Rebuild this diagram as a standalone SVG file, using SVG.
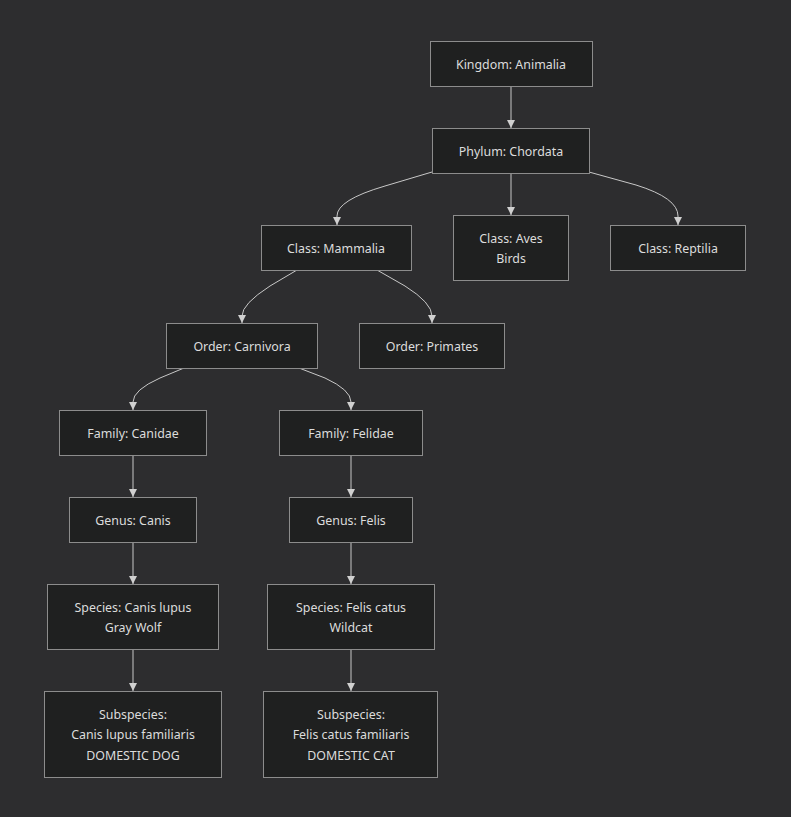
<svg xmlns="http://www.w3.org/2000/svg" width="791" height="817" viewBox="0 0 791 817">
<style>
.bg{fill:#2d2d2f}
.n rect{fill:#1f2020;stroke:#8c8c8c;stroke-width:1}
.n text{fill:#dcdcdc;font-family:"Noto Sans","DejaVu Sans",sans-serif;font-size:12.4px;text-anchor:middle;dominant-baseline:central}
.e path{fill:none;stroke:#c8c8c8;stroke-width:1;marker-end:url(#arr)}
</style>
<defs>
<marker id="arr" viewBox="0 0 10 10" refX="10" refY="5" markerWidth="8" markerHeight="8" markerUnits="userSpaceOnUse" orient="auto">
<path d="M0,0 L10,5 L0,10 z" fill="#d0d0d0"/>
</marker>
</defs>
<rect class="bg" x="0" y="0" width="791" height="817"/>
<g id="connectors" class="e">
<path d="M511,86 L511,128"/>
<path d="M432,172 L385,186 Q337,200 337,216 L337,225"/>
<path d="M511,173 L511,215"/>
<path d="M589,172 L636,185 Q678,198 678,216 L678,225"/>
<path d="M297,270 L270,286 Q242,304 242,316 L242,323"/>
<path d="M377,270 L405,286 Q432,303 432,316 L432,323"/>
<path d="M184,368 L160,378 Q133,390 133,402 L133,410"/>
<path d="M299,368 L325,378 Q351,390 351,402 L351,410"/>
<path d="M133,455 L133,497"/>
<path d="M351,455 L351,497"/>
<path d="M133,542 L133,584"/>
<path d="M351,542 L351,584"/>
<path d="M133,649 L133,691"/>
<path d="M351,649 L351,691"/>
</g>
<g id="kingdom" class="n"><rect x="430.5" y="41.5" width="162" height="45"/><text x="511" y="64">Kingdom: Animalia</text></g>
<g id="phylum" class="n"><rect x="432.5" y="128.5" width="157" height="45"/><text x="511" y="151">Phylum: Chordata</text></g>
<g id="mammalia" class="n"><rect x="261.5" y="225.5" width="150" height="45"/><text x="336" y="248">Class: Mammalia</text></g>
<g id="aves" class="n"><rect x="453.5" y="215.5" width="115" height="65"/><text x="511" y="238">Class: Aves</text><text x="511" y="258">Birds</text></g>
<g id="reptilia" class="n"><rect x="610.5" y="225.5" width="135" height="45"/><text x="678" y="248">Class: Reptilia</text></g>
<g id="carnivora" class="n"><rect x="166.5" y="323.5" width="151" height="45"/><text x="242" y="346">Order: Carnivora</text></g>
<g id="primates" class="n"><rect x="359.5" y="323.5" width="145" height="45"/><text x="432" y="346">Order: Primates</text></g>
<g id="canidae" class="n"><rect x="59.5" y="410.5" width="147" height="45"/><text x="133" y="433">Family: Canidae</text></g>
<g id="felidae" class="n"><rect x="279.5" y="410.5" width="143" height="45"/><text x="351" y="433">Family: Felidae</text></g>
<g id="canis" class="n"><rect x="69.5" y="497.5" width="127" height="45"/><text x="133" y="520">Genus: Canis</text></g>
<g id="felis" class="n"><rect x="289.5" y="497.5" width="123" height="45"/><text x="351" y="520">Genus: Felis</text></g>
<g id="species-wolf" class="n"><rect x="47.5" y="584.5" width="171" height="65"/><text x="133" y="607">Species: Canis lupus</text><text x="133" y="627">Gray Wolf</text></g>
<g id="species-cat" class="n"><rect x="267.5" y="584.5" width="167" height="65"/><text x="351" y="607">Species: Felis catus</text><text x="351" y="627">Wildcat</text></g>
<g id="subspecies-dog" class="n"><rect x="44.5" y="691.5" width="177" height="86"/><text x="133" y="714">Subspecies:</text><text x="133" y="734">Canis lupus familiaris</text><text x="133" y="755">DOMESTIC DOG</text></g>
<g id="subspecies-cat" class="n"><rect x="263.5" y="691.5" width="174" height="86"/><text x="351" y="714">Subspecies:</text><text x="351" y="734">Felis catus familiaris</text><text x="351" y="755">DOMESTIC CAT</text></g>
</svg>
